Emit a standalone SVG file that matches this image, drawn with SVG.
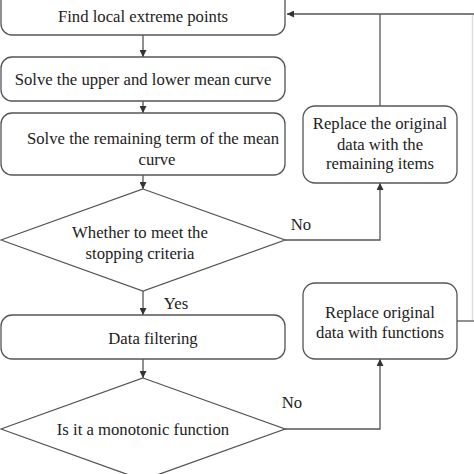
<svg xmlns="http://www.w3.org/2000/svg" width="474" height="474" viewBox="0 0 474 474">
<defs>
<style>
.box{fill:#fff;stroke:#555;stroke-width:1.3}
.t{font-family:"Liberation Serif",serif;font-size:16.7px;fill:#222;text-anchor:middle}
.c{fill:none;stroke:#555;stroke-width:1.3}
.lt{fill:none;stroke:#ddd;stroke-width:1.5}
</style>
<marker id="ah" viewBox="0 0 10 10" refX="10" refY="5" markerWidth="7" markerHeight="7" orient="auto" markerUnits="userSpaceOnUse">
<path d="M0,0 L10,5 L0,10 z" fill="#333"/>
</marker>
</defs>
<rect width="474" height="474" fill="#fff"/>
<g id="connectors">
<line class="c" x1="143" y1="35" x2="143" y2="57" marker-end="url(#ah)"/>
<line class="c" x1="143" y1="101" x2="143" y2="113" marker-end="url(#ah)"/>
<line class="c" x1="143" y1="175" x2="143" y2="189" marker-end="url(#ah)"/>
<line class="c" x1="143" y1="291" x2="143" y2="315" marker-end="url(#ah)"/>
<line class="c" x1="143" y1="359" x2="143" y2="378" marker-end="url(#ah)"/>
<polyline class="c" points="285,240 380,240 380,183" marker-end="url(#ah)"/>
<polyline class="c" points="285,429 380,429 380,359" marker-end="url(#ah)"/>
<line class="c" x1="380" y1="106" x2="380" y2="14"/>
<line class="c" x1="474" y1="14" x2="287" y2="14" marker-end="url(#ah)"/>
<line class="c" x1="457" y1="321" x2="474" y2="321"/>
<line class="lt" x1="472.5" y1="15" x2="472.5" y2="320"/>
<text class="t" x="301" y="230">No</text>
<text class="t" x="176" y="309">Yes</text>
<text class="t" x="292" y="408">No</text>
</g>
<g id="n1">
<rect class="box" x="1" y="-10" width="284" height="45" rx="11"/>
<text class="t" x="143" y="22">Find local extreme points</text>
</g>
<g id="n2">
<rect class="box" x="1" y="57" width="284" height="44" rx="11"/>
<text class="t" x="143" y="85">Solve the upper and lower mean curve</text>
</g>
<g id="n3">
<rect class="box" x="1" y="113" width="284" height="62" rx="11"/>
<text class="t" x="153" y="144">Solve the remaining term of the mean</text>
<text class="t" x="157" y="165">curve</text>
</g>
<g id="d1">
<polygon class="box" points="143,189 285,240 143,291 1,240"/>
<text class="t" x="140" y="238">Whether to meet the</text>
<text class="t" x="140" y="259">stopping criteria</text>
</g>
<g id="r1">
<rect class="box" x="303" y="106" width="154" height="77" rx="12"/>
<text class="t" x="380" y="129">Replace the original</text>
<text class="t" x="380" y="150">data with the</text>
<text class="t" x="380" y="169">remaining items</text>
</g>
<g id="n4">
<rect class="box" x="1" y="315" width="284" height="44" rx="11"/>
<text class="t" x="153" y="344">Data filtering</text>
</g>
<g id="r2">
<rect class="box" x="303" y="283" width="154" height="76" rx="12"/>
<text class="t" x="380" y="318">Replace original</text>
<text class="t" x="380" y="338">data with functions</text>
</g>
<g id="d2">
<polygon class="box" points="143,378 285,429 143,480 1,429"/>
<text class="t" x="143" y="435">Is it a monotonic function</text>
</g>
</svg>
